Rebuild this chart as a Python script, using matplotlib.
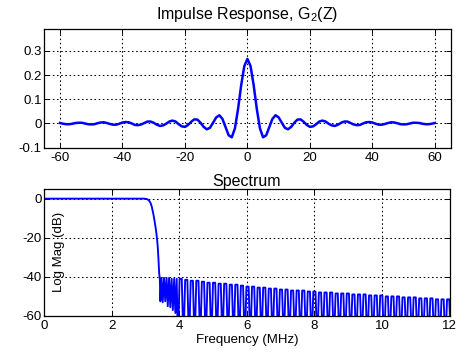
import numpy as np
import matplotlib
matplotlib.use('Agg')
import matplotlib.pyplot as plt

plt.rcParams['font.family'] = ['Liberation Sans', 'DejaVu Sans']
plt.rcParams['font.size'] = 9.5
plt.rcParams['mathtext.fontset'] = 'custom'
plt.rcParams['mathtext.rm'] = 'Liberation Sans'
plt.rcParams['mathtext.it'] = 'Liberation Sans'

# impulse response taps, n = -60 .. 60
taps = np.arange(-60, 61)
impulse = [
    0.002, -0.001, -0.003, -0.003, -0.001, 0.002, 0.003, 0.003, 0.000, -0.003,
    -0.004, -0.003, 0.001, 0.004, 0.005, 0.002, -0.002, -0.005, -0.005, -0.001,
    0.004, 0.006, 0.005, 0.000, -0.006, -0.007, -0.004, 0.002, 0.008, 0.008,
    0.003, -0.005, -0.010, -0.008, -0.001, 0.008, 0.012, 0.008, -0.003, -0.012,
    -0.014, -0.006, 0.007, 0.017, 0.016, 0.003, -0.014, -0.024, -0.018, 0.003,
    0.025, 0.034, 0.019, -0.015, -0.049, -0.057, -0.020, 0.060, 0.158, 0.237,
    0.267,
    0.237, 0.158, 0.060, -0.020, -0.057, -0.049, -0.015, 0.019, 0.034, 0.025,
    0.003, -0.018, -0.024, -0.014, 0.003, 0.016, 0.017, 0.007, -0.006, -0.014,
    -0.012, -0.003, 0.008, 0.012, 0.008, -0.001, -0.008, -0.010, -0.005, 0.003,
    0.008, 0.008, 0.002, -0.004, -0.007, -0.006, 0.000, 0.005, 0.006, 0.004,
    -0.001, -0.005, -0.005, -0.002, 0.002, 0.005, 0.004, 0.001, -0.003, -0.004,
    -0.003, 0.000, 0.003, 0.003, 0.002, -0.001, -0.003, -0.003, -0.001, 0.002,
]

# spectrum: passband + transition band
pass_mhz = [0.0, 2.95, 3.00, 3.05, 3.10, 3.14, 3.18, 3.23, 3.27, 3.31, 3.34,
            3.36, 3.38, 3.40, 3.42]
pass_db = [0, 0, -0.1, -0.3, -1.0, -2.0, -4.0, -8.0, -12, -16.5, -21,
           -25, -31, -38, -41]

# first stopband ripples (shallow nulls)
near_mhz = [3.435, 3.47, 3.505, 3.545, 3.58, 3.62, 3.655, 3.695, 3.73, 3.77,
            3.805, 3.845, 3.88, 3.92]
near_db = [-52.5, -40.5, -53, -40.5, -52.5, -40.5, -55, -40.5, -55.5, -41,
           -57, -41, -58.5, -41]

# remaining stopband lobes: null, left / right edge of each lobe top
null_mhz = [3.955, 4.120, 4.285, 4.450, 4.615, 4.780, 4.945, 5.110, 5.275, 5.440,
            5.605, 5.770, 5.935, 6.100, 6.265, 6.430, 6.595, 6.760, 6.925, 7.090,
            7.255, 7.420, 7.585, 7.750, 7.915, 8.080, 8.245, 8.410, 8.575, 8.740,
            8.905, 9.070, 9.235, 9.400, 9.565, 9.730, 9.895, 10.060, 10.225, 10.390,
            10.555, 10.720, 10.885, 11.050, 11.215, 11.380, 11.545, 11.710, 11.875,
            12.040]
null_db = -75
left_mhz = [4.005, 4.170, 4.335, 4.500, 4.665, 4.830, 4.995, 5.160, 5.325, 5.490,
            5.655, 5.820, 5.985, 6.150, 6.315, 6.480, 6.645, 6.810, 6.975, 7.140,
            7.305, 7.470, 7.635, 7.800, 7.965, 8.130, 8.295, 8.460, 8.625, 8.790,
            8.955, 9.120, 9.285, 9.450, 9.615, 9.780, 9.945, 10.110, 10.275, 10.440,
            10.605, 10.770, 10.935, 11.100, 11.265, 11.430, 11.595, 11.760, 11.925]
right_mhz = [4.070, 4.235, 4.400, 4.565, 4.730, 4.895, 5.060, 5.225, 5.390, 5.555,
             5.720, 5.885, 6.050, 6.215, 6.380, 6.545, 6.710, 6.875, 7.040, 7.205,
             7.370, 7.535, 7.700, 7.865, 8.030, 8.195, 8.360, 8.525, 8.690, 8.855,
             9.020, 9.185, 9.350, 9.515, 9.680, 9.845, 10.010, 10.175, 10.340, 10.505,
             10.670, 10.835, 11.000, 11.165, 11.330, 11.495, 11.660, 11.825, 11.990]
top_db = [-41, -41.5, -42, -42, -42.5, -43, -43, -43.5, -43.5, -44,
          -44, -44.5, -45, -45, -45.5, -45.5, -46, -46, -46.5, -46.5,
          -47, -47, -47, -47.5, -47.5, -48, -48, -48, -48.5, -48.5,
          -48.5, -49, -49, -49, -49.5, -49.5, -49.5, -50, -50, -50,
          -50.5, -50.5, -50.5, -51, -51, -51, -51.5, -51.5, -51.5]

spec_mhz = pass_mhz + near_mhz
spec_db = pass_db + near_db
for i in range(len(top_db)):
    spec_mhz += [null_mhz[i], left_mhz[i], right_mhz[i]]
    spec_db += [null_db, top_db[i], top_db[i]]
spec_mhz.append(null_mhz[-1])
spec_db.append(null_db)

blue = '#0000ff'


def style(ax):
    ax.grid(True, color='black', linestyle=(0, (1.5, 2.5)), linewidth=0.75)
    ax.tick_params(direction='in', length=3.5, width=0.7, top=True, right=True,
                   pad=3)
    ax.tick_params(axis='y', pad=2)
    for s in ax.spines.values():
        s.set_linewidth(0.9)


fig = plt.figure(figsize=(4.74, 3.55), dpi=100)

ax1 = fig.add_axes([0.0935, 0.584, 0.857, 0.334])
ax1.plot(taps, impulse, color=blue, linewidth=1.8)
ax1.set_xlim(-65, 65)
ax1.set_ylim(-0.1, 0.39)
ax1.set_xticks([-60, -40, -20, 0, 20, 40, 60])
ax1.set_yticks([-0.1, 0, 0.1, 0.2, 0.3])
ax1.set_yticklabels(['-0.1', '0', '0.1', '0.2', '0.3'])
ax1.set_xticklabels(['-60', '-40', '-20', '0', '20', '40', '60'])
ax1.set_title('Impulse Response, G$_2$(Z)', fontsize=11.5, pad=7)
style(ax1)

ax2 = fig.add_axes([0.0935, 0.110, 0.855, 0.358])
ax2.plot(spec_mhz, spec_db, color=blue, linewidth=1.35)
ax2.set_xlim(0, 12)
ax2.set_ylim(-60, 5)
ax2.set_xticks([0, 2, 4, 6, 8, 10, 12])
ax2.set_yticks([-60, -40, -20, 0])
ax2.set_yticklabels(['-60', '-40', '-20', '0'])
ax2.set_title('Spectrum', fontsize=11.5, pad=2)
ax2.set_xlabel('Frequency (MHz)', labelpad=1)
ax2.set_ylabel('Log Mag (dB)')
ax2.yaxis.set_label_coords(0.05, 0.5)
style(ax2)

fig.savefig('out.png', dpi=100)
